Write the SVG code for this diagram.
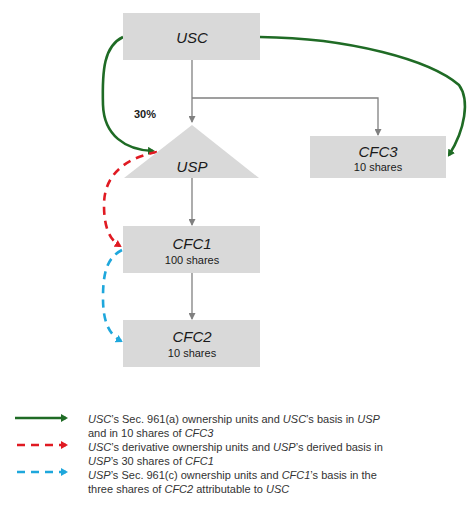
<svg xmlns="http://www.w3.org/2000/svg" width="474" height="525" viewBox="0 0 474 525">
<style>
.box{fill:#d9d9d9}
.t{font-family:"Liberation Sans",Arial,sans-serif;fill:#1a1a1a;text-anchor:middle}
.ti{font-style:italic;font-size:15px}
.ts{font-size:11px}
.conn{stroke:#808080;stroke-width:1.3;fill:none}
.g{stroke:#1f6b25;stroke-width:2.6;fill:none}
.r{stroke:#e01a22;stroke-width:2.6;fill:none;stroke-dasharray:8 6}
.b{stroke:#1ea7dc;stroke-width:2.6;fill:none;stroke-dasharray:8 6}
.lg{font-family:"Liberation Sans",Arial,sans-serif;font-size:11px;fill:#333}
</style>
<defs>
<marker id="ag" markerWidth="8" markerHeight="8" refX="5" refY="4" orient="auto" markerUnits="userSpaceOnUse"><path d="M0,0 L7,4 L0,8 z" fill="#1f6b25"/></marker>
<marker id="ar" markerWidth="8" markerHeight="8" refX="5" refY="4" orient="auto" markerUnits="userSpaceOnUse"><path d="M0,0 L7,4 L0,8 z" fill="#e01a22"/></marker>
<marker id="ab" markerWidth="8" markerHeight="8" refX="5" refY="4" orient="auto" markerUnits="userSpaceOnUse"><path d="M0,0 L7,4 L0,8 z" fill="#1ea7dc"/></marker>
<marker id="ay" markerWidth="7" markerHeight="7" refX="6" refY="3.5" orient="auto" markerUnits="userSpaceOnUse"><path d="M0,0 L7,3.5 L0,7 z" fill="#808080"/></marker>
</defs>

<g id="connectors">
<path class="conn" d="M192,60 V122" marker-end="url(#ay)"/>
<path class="conn" d="M192,98 H378 V135" marker-end="url(#ay)"/>
<path class="conn" d="M192,178 V225" marker-end="url(#ay)"/>
<path class="conn" d="M192,273 V319" marker-end="url(#ay)"/>
<path class="g" d="M123,37 C104,46 102,70 103,105 C104,135 125,150 153,151" marker-end="url(#ag)"/>
<path class="g" d="M260,37 C350,38 430,60 459,85 C470,100 465,130 449,155" marker-end="url(#ag)"/>
<path class="r" d="M157,152 C125,158 104,175 104,205 C104,228 110,240 120,246" marker-end="url(#ar)"/>
<path class="b" d="M122,250 C106,258 103,275 103,298 C103,320 108,334 121,341" marker-end="url(#ab)"/>
</g>

<g id="USC">
<rect class="box" x="123" y="13" width="137" height="47"/>
<text class="t ti" x="192" y="43">USC</text>
</g>
<g id="USP">
<polygon class="box" points="192,125 259,178 124,178"/>
<text class="t ti" x="192" y="172">USP</text>
</g>
<g id="CFC3">
<rect class="box" x="310" y="136" width="136" height="42"/>
<text class="t ti" x="378" y="157">CFC3</text>
<text class="t ts" x="378" y="171">10 shares</text>
</g>
<g id="CFC1">
<rect class="box" x="123" y="226" width="137" height="47"/>
<text class="t ti" x="192" y="249">CFC1</text>
<text class="t ts" x="192" y="264">100 shares</text>
</g>
<g id="CFC2">
<rect class="box" x="123" y="320" width="137" height="47"/>
<text class="t ti" x="192" y="342">CFC2</text>
<text class="t ts" x="192" y="357">10 shares</text>
</g>
<g id="label30">
<text x="145" y="118" text-anchor="middle" font-family="Liberation Sans,Arial,sans-serif" font-weight="bold" font-size="11" fill="#1a1a1a">30%</text>
</g>

<g id="legend">
<path class="g" d="M15,418 H66" marker-end="url(#ag)"/>
<path class="r" d="M17,445 H66" stroke-dasharray="8 9" marker-end="url(#ar)"/>
<path class="b" d="M17,472 H66" stroke-dasharray="8 9" marker-end="url(#ab)"/>
<text class="lg" x="88" y="423"><tspan font-style="italic">USC</tspan>’s Sec. 961(a) ownership units and <tspan font-style="italic">USC</tspan>’s basis in <tspan font-style="italic">USP</tspan></text>
<text class="lg" x="88" y="437">and in 10 shares of <tspan font-style="italic">CFC3</tspan></text>
<text class="lg" x="88" y="451"><tspan font-style="italic">USC</tspan>’s derivative ownership units and <tspan font-style="italic">USP</tspan>’s derived basis in</text>
<text class="lg" x="88" y="465"><tspan font-style="italic">USP</tspan>’s 30 shares of <tspan font-style="italic">CFC1</tspan></text>
<text class="lg" x="88" y="479"><tspan font-style="italic">USP</tspan>’s Sec. 961(c) ownership units and <tspan font-style="italic">CFC1</tspan>’s basis in the</text>
<text class="lg" x="88" y="493">three shares of <tspan font-style="italic">CFC2</tspan> attributable to <tspan font-style="italic">USC</tspan></text>
</g>
</svg>
